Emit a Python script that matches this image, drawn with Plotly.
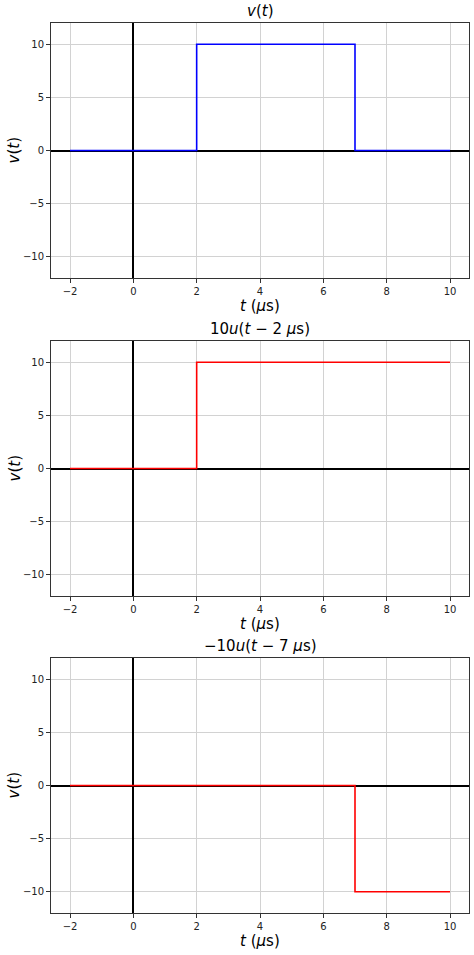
import plotly.graph_objects as go

# Data
t1 = [-2, 2, 7, 10]
v1 = [0, 10, 0, 0]
t2 = [-2, 2, 10]
v2 = [0, 10, 10]
t3 = [-2, 7, 10]
v3 = [0, -10, -10]
titles = ["<i>v</i>(<i>t</i>)", "10<i>u</i>(<i>t</i> − 2 <i>μ</i>s)", "−10<i>u</i>(<i>t</i> − 7 <i>μ</i>s)"]
x_label = "<i>t</i> (<i>μ</i>s)"
y_label = "<i>v</i>(<i>t</i>)"
colors = ["#0000ff", "#ff0000", "#ff0000"]
x_ticks = [-2, 0, 2, 4, 6, 8, 10]
y_ticks = [-10, -5, 0, 5, 10]

FONT = "DejaVu Sans"
W, H = 474, 955
ML, MR, MT, MB = 51, 5, 23, 42
ph = H - MT - MB
tops = [23, 341, 658]
bots = [278, 596, 913]

fig = go.Figure()
series = [(t1, v1), (t2, v2), (t3, v3)]
for i, ((tx, vy), c) in enumerate(zip(series, colors)):
    n = "" if i == 0 else str(i + 1)
    fig.add_trace(go.Scatter(x=tx, y=vy, mode="lines", line=dict(color=c, width=1.6, shape="hv"),
                             xaxis="x" + n, yaxis="y" + n, showlegend=False, hoverinfo="skip"))
    d0 = 1 - (bots[i] - MT) / ph
    d1 = 1 - (tops[i] - MT) / ph
    ax = dict(range=[-2.6, 10.6], tickvals=x_ticks, ticktext=[str(v).replace("-", "−") for v in x_ticks],
              showgrid=True, gridcolor="#d2d2d2", gridwidth=1,
              zeroline=True, zerolinecolor="black", zerolinewidth=1.5,
              showline=True, linecolor="#333333", linewidth=1, mirror=True,
              ticks="outside", ticklen=4, tickcolor="#333333",
              tickfont=dict(family=FONT, size=10, color="#222"),
              automargin=False, anchor="y" + n)
    ay = dict(range=[-12, 12], tickvals=y_ticks, ticktext=[str(v).replace("-", "−") for v in y_ticks],
              domain=[d0, d1],
              showgrid=True, gridcolor="#d2d2d2", gridwidth=1,
              zeroline=True, zerolinecolor="black", zerolinewidth=1.5,
              showline=True, linecolor="#333333", linewidth=1, mirror=True,
              ticks="outside", ticklen=4, tickcolor="#333333",
              tickfont=dict(family=FONT, size=10, color="#222"),
              automargin=False, anchor="x" + n)
    fig.layout["xaxis" + n] = ax
    fig.layout["yaxis" + n] = ay
    fig.add_annotation(text=titles[i], x=0.5, y=d1, xref="paper", yref="paper",
                       xanchor="center", yanchor="bottom", yshift=1, showarrow=False,
                       font=dict(family=FONT, size=15, color="black"))
    fig.add_annotation(text=x_label, x=0.5, y=d0, xref="paper", yref="paper",
                       xanchor="center", yanchor="middle", yshift=-28, showarrow=False,
                       font=dict(family=FONT, size=15, color="black"))
    fig.add_annotation(text=y_label, x=0, y=(d0 + d1) / 2, xref="paper", yref="paper",
                       xanchor="center", yanchor="middle", xshift=-37, textangle=-90, showarrow=False,
                       font=dict(family=FONT, size=15, color="black"))

fig.update_layout(width=W, height=H, margin=dict(l=ML, r=MR, t=MT, b=MB),
                  plot_bgcolor="white", paper_bgcolor="white", font=dict(family=FONT))
fig.write_html("out.html", config={"displayModeBar": False},
               post_script="document.body.style.margin='0';document.body.style.overflow='hidden';")
